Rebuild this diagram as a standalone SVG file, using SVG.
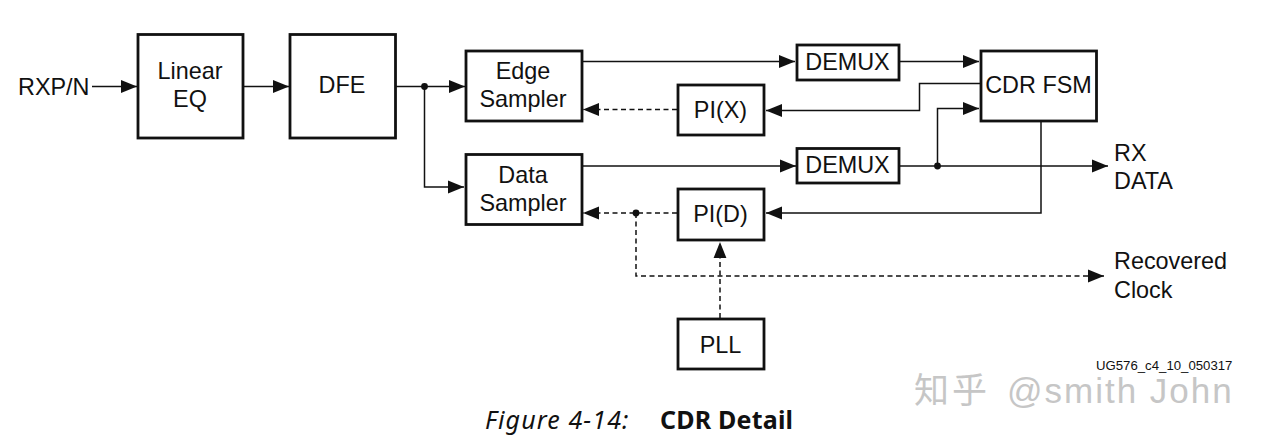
<svg xmlns="http://www.w3.org/2000/svg" width="1265" height="439" viewBox="0 0 1265 439">
<style>
text{font-family:"Liberation Sans",Arial,sans-serif;font-size:23.400px;fill:#111}
.c{text-anchor:middle}
.box{fill:#fff;stroke:#111;stroke-width:2.800}
.l{fill:none;stroke:#111;stroke-width:1.500}
.d{stroke-dasharray:5 3.500}
.a{marker-end:url(#ah)}
.cap{font-family:"Noto Sans","Open Sans",sans-serif;font-size:25px}
.wm{font-family:"Liberation Sans","Noto Sans CJK SC",sans-serif;font-size:35px;fill:#c6c6c6}
</style>
<defs>
<marker id="ah" markerUnits="userSpaceOnUse" markerWidth="17" markerHeight="14" refX="16" refY="7" orient="auto"><path d="M0 .6L16 7L0 13.400Z" fill="#111"/></marker>
</defs>
<rect width="1265" height="439" fill="#fff"/>
<g id="connectors">
<path class="l a" d="M92 86.500H137"/>
<path class="l a" d="M244 86.500H289"/>
<path class="l a" d="M396 86.500H465"/>
<path class="l a" d="M424.500 86.500V187H464"/>
<path class="l a" d="M583 61.500H795"/>
<path class="l a" d="M900 61.500H979"/>
<path class="l a" d="M980 83.500H919.500V110.500H766"/>
<path class="l d a" d="M677 109.500H583"/>
<path class="l a" d="M583 166H796"/>
<path class="l a" d="M900 166H1108"/>
<path class="l a" d="M937.500 166V108.500H979"/>
<path class="l a" d="M1041 122V213H766"/>
<path class="l d a" d="M677 213H583"/>
<path class="l d a" d="M636 213V276H1104"/>
<path class="l d a" d="M720 318V242"/>
<circle cx="424.500" cy="86.500" r="3.400" fill="#111"/>
<circle cx="937.500" cy="166" r="3.400" fill="#111"/>
<circle cx="636" cy="213" r="3.400" fill="#111"/>
</g>
<g id="rxp"><text x="18" y="95">RXP/N</text></g>
<g id="linear-eq"><rect class="box" x="138" y="34.500" width="105" height="103.500"/><text class="c" x="190" y="79">Linear</text><text class="c" x="190" y="107">EQ</text></g>
<g id="dfe"><rect class="box" x="290" y="34.500" width="105.500" height="103.500"/><text class="c" x="342" y="93">DFE</text></g>
<g id="edge-sampler"><rect class="box" x="466" y="51" width="116" height="70"/><text class="c" x="523" y="79">Edge</text><text class="c" x="523" y="107">Sampler</text></g>
<g id="data-sampler"><rect class="box" x="466" y="154.500" width="116" height="70"/><text class="c" x="523" y="183">Data</text><text class="c" x="523" y="211">Sampler</text></g>
<g id="demux-1"><rect class="box" x="797" y="45" width="102" height="35"/><text class="c" x="847.500" y="70">DEMUX</text></g>
<g id="demux-2"><rect class="box" x="797" y="148.500" width="102" height="34.500"/><text class="c" x="847.500" y="173">DEMUX</text></g>
<g id="pi-x"><rect class="box" x="678" y="85" width="86" height="50"/><text class="c" x="720.500" y="118">PI(X)</text></g>
<g id="pi-d"><rect class="box" x="678" y="189" width="86" height="51"/><text class="c" x="720.500" y="222">PI(D)</text></g>
<g id="cdr-fsm"><rect class="box" x="981" y="51" width="115.500" height="70"/><text class="c" x="1038.500" y="93">CDR FSM</text></g>
<g id="pll"><rect class="box" x="678" y="319" width="86" height="50"/><text class="c" x="720.500" y="353">PLL</text></g>
<g id="rx-data"><text x="1114" y="161">RX</text><text x="1114" y="189">DATA</text></g>
<g id="recovered-clock"><text x="1114" y="269">Recovered</text><text x="1114" y="298">Clock</text></g>
<text x="1096" y="369.500" style="font-size:13.200px">UG576_c4_10_050317</text>
<text class="wm" x="914" y="403"><tspan letter-spacing="3">知乎</tspan><tspan x="1007" letter-spacing="2">@smith John</tspan></text>
<text class="cap" x="485" y="429" font-style="italic" letter-spacing="1.100">Figure 4-14:</text>
<text class="cap" x="660" y="429" font-weight="700" letter-spacing=".2">CDR Detail</text>
</svg>
